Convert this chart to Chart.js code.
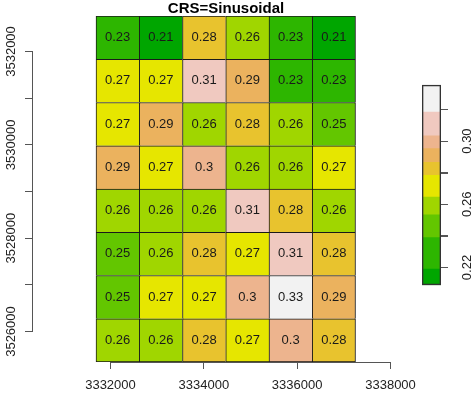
<!DOCTYPE html>
<html>
<head>
<meta charset="utf-8">
<script src="https://cdn.jsdelivr.net/npm/chart.js@4/dist/chart.umd.min.js"></script>
<style>
  html, body { margin: 0; padding: 0; background: #fff; }
  #wrap { position: relative; width: 474px; height: 395px; }
  #main { position: absolute; left: 0; top: 0; }
  #legend { position: absolute; left: 400px; top: 70px; }
</style>
</head>
<body>
<div id="wrap">
  <canvas id="main" width="474" height="395"></canvas>
  <canvas id="legend" width="74" height="230"></canvas>
</div>
<script>
// ---------- data ----------
const title = 'CRS=Sinusoidal';

// raster : 6 colonnes x 8 lignes, cellule ~926.6 m (sinusoïdale MODIS)
const cellSize = 926.6;
const rasterLeft = 3331690;
const rasterTop = 3532760;

// valeurs lues ligne par ligne (haut -> bas)
const row1 = [0.23, 0.21, 0.28, 0.26, 0.23, 0.21];
const row2 = [0.27, 0.27, 0.31, 0.29, 0.23, 0.23];
const row3 = [0.27, 0.29, 0.26, 0.28, 0.26, 0.25];
const row4 = [0.29, 0.27, 0.3, 0.26, 0.26, 0.27];
const row5 = [0.26, 0.26, 0.26, 0.31, 0.28, 0.26];
const row6 = [0.25, 0.26, 0.28, 0.27, 0.31, 0.28];
const row7 = [0.25, 0.27, 0.27, 0.3, 0.33, 0.29];
const row8 = [0.26, 0.26, 0.28, 0.27, 0.3, 0.28];
const rows = [row1, row2, row3, row4, row5, row6, row7, row8];

// étendue du graphique (usr) et ticks
const xMin = 3330340, xMax = 3338610;
const yMin = 3525347, yMax = 3532760;
const xTicks = [3332000, 3334000, 3336000, 3338000];
const yTicks = [3526000, 3527000, 3528000, 3529000, 3530000, 3531000, 3532000];
const yLabelled = [3526000, 3528000, 3530000, 3532000];

// légende (terrain.colors)
const legendBreaks = [0.2088, 0.2194, 0.2394, 0.2538, 0.2650, 0.2788, 0.2869, 0.2956, 0.3038, 0.3188, 0.3356];
const legendColors = ['#00A600', '#2DB600', '#63C600', '#A0D600', '#E6E600', '#E8C32E', '#EBB25E', '#EDB48E', '#F0C9C0', '#F2F2F2'];
const legendTicks = [0.22, 0.24, 0.26, 0.28, 0.30, 0.32];
const legendLabelled = [0.22, 0.26, 0.30];

// ---------- helpers ----------
const axisColor = '#555';
const textColor = '#222';

Chart.defaults.font.family = '"Liberation Sans", Arial, sans-serif';
Chart.defaults.font.size = 13;
Chart.defaults.color = textColor;

function colorFor(v) {
  for (let i = 0; i < legendColors.length; i++) {
    if (v >= legendBreaks[i] && v < legendBreaks[i + 1]) return legendColors[i];
  }
  return legendColors[legendColors.length - 1];
}

const setTicks = list => s => { s.ticks = list.map(v => ({ value: v })); };

const nRows = rows.length;
const nCols = row1.length;
const cells = [];
rows.forEach((row, r) => {
  row.forEach((v, c) => {
    cells.push({
      x: rasterLeft + (c + 0.5) * cellSize,
      y: [rasterTop - (r + 1) * cellSize, rasterTop - r * cellSize],
      v: v, r: r, c: c
    });
  });
});

// texte des valeurs au centre des cellules
const cellLabels = {
  id: 'cellLabels',
  afterDatasetsDraw(chart) {
    const meta = chart.getDatasetMeta(0);
    const ctx = chart.ctx;
    ctx.save();
    ctx.font = '13px "Liberation Sans", Arial, sans-serif';
    ctx.fillStyle = '#1a1a1a';
    ctx.textAlign = 'center';
    ctx.textBaseline = 'middle';
    meta.data.forEach((bar, i) => {
      const p = bar.getCenterPoint();
      ctx.fillText(String(cells[i].v), p.x, p.y);
    });
    ctx.restore();
  }
};

// lignes d'axe façon R : du premier au dernier tick
const rAxes = {
  id: 'rAxes',
  afterDraw(chart) {
    const ctx = chart.ctx;
    const area = chart.chartArea;
    ctx.save();
    ctx.strokeStyle = axisColor;
    ctx.lineWidth = 1;
    ctx.beginPath();
    Object.values(chart.scales).forEach(s => {
      if (!s.options.display || !s.ticks.length) return;
      const a = s.getPixelForValue(s.ticks[0].value);
      const b = s.getPixelForValue(s.ticks[s.ticks.length - 1].value);
      if (s.isHorizontal()) {
        const y = Math.round(area.bottom) + 0.5;
        ctx.moveTo(a, y); ctx.lineTo(b, y);
      } else {
        const x = s.position === 'right' ? Math.round(area.right) + 0.5 : Math.round(area.left) - 0.5;
        ctx.moveTo(x, a); ctx.lineTo(x, b);
      }
    });
    ctx.stroke();
    ctx.restore();
  }
};

// petits traits de graduation de la légende (côté droit)
const legendTickMarks = {
  id: 'legendTickMarks',
  afterDraw(chart) {
    const s = chart.scales.y;
    const ctx = chart.ctx;
    const x = Math.round(chart.chartArea.right);
    ctx.save();
    ctx.strokeStyle = axisColor;
    ctx.lineWidth = 1;
    ctx.beginPath();
    s.ticks.forEach(t => {
      const y = Math.round(s.getPixelForValue(t.value)) + 0.5;
      ctx.moveTo(x, y); ctx.lineTo(x + 7, y);
    });
    ctx.stroke();
    ctx.restore();
  }
};

// ---------- carte ----------
new Chart(document.getElementById('main'), {
  type: 'bar',
  data: {
    datasets: [{
      data: cells,
      backgroundColor: ctx => colorFor(ctx.raw.v),
      borderColor: '#1a1a1a',
      borderSkipped: false,
      borderWidth: ctx => ({
        left: 1, top: 1,
        right: ctx.raw.c === nCols - 1 ? 1 : 0,
        bottom: ctx.raw.r === nRows - 1 ? 1 : 0
      }),
      grouped: false,
      categoryPercentage: 1,
      barPercentage: 1
    }]
  },
  options: {
    responsive: false,
    animation: false,
    layout: { padding: { left: 0, right: 55, top: 0, bottom: 0 } },
    plugins: {
      legend: { display: false },
      tooltip: { enabled: false },
      title: {
        display: true,
        text: title,
        fullSize: false,
        color: '#000',
        font: { size: 15, weight: 'bold', lineHeight: 1 },
        padding: { top: 1, bottom: 0 }
      }
    },
    scales: {
      x: {
        type: 'linear',
        min: xMin, max: xMax,
        offset: false,
        afterBuildTicks: setTicks(xTicks),
        afterFit: s => { s.height = 33; },
        border: { display: false },
        grid: { offset: false, drawOnChartArea: false, color: axisColor, tickLength: 7 },
        ticks: { padding: 9, maxRotation: 0, callback: v => String(v) }
      },
      y: {
        type: 'linear',
        min: yMin, max: yMax,
        afterBuildTicks: setTicks(yTicks),
        afterFit: s => { s.width = 33; },
        border: { display: false },
        grid: { drawOnChartArea: false, color: axisColor, tickLength: 8 },
        ticks: { minRotation: 90, crossAlign: 'center', padding: -12,
                 callback: v => yLabelled.includes(v) ? String(v) : '' }
      }
    }
  },
  plugins: [cellLabels, rAxes]
});

// ---------- légende ----------
new Chart(document.getElementById('legend'), {
  type: 'bar',
  data: {
    datasets: [
      {
        data: [{ x: 0, y: [legendBreaks[0], legendBreaks[legendBreaks.length - 1]] }],
        backgroundColor: 'rgba(0,0,0,0)',
        borderColor: '#333',
        borderWidth: 1,
        borderSkipped: false,
        grouped: false, categoryPercentage: 1, barPercentage: 1
      },
      {
        data: legendColors.map((c, i) => ({ x: 0, y: [legendBreaks[i], legendBreaks[i + 1]] })),
        backgroundColor: legendColors,
        borderWidth: 0,
        grouped: false, categoryPercentage: 1, barPercentage: 1
      }
    ]
  },
  options: {
    responsive: false,
    animation: false,
    layout: { padding: { left: 22, right: 0, top: 14, bottom: 13 } },
    plugins: { legend: { display: false }, tooltip: { enabled: false } },
    scales: {
      x: { type: 'linear', min: -1, max: 1, offset: false, display: false },
      y: {
        type: 'linear',
        position: 'right',
        min: legendBreaks[0], max: legendBreaks[legendBreaks.length - 1],
        afterBuildTicks: setTicks(legendTicks),
        afterFit: s => { s.width = 33; },
        border: { display: false },
        grid: { drawOnChartArea: false, color: axisColor, tickLength: 7 },
        ticks: { minRotation: 90, crossAlign: 'center', padding: 7,
                 callback: v => legendLabelled.some(l => Math.abs(l - v) < 1e-9) ? v.toFixed(2) : '' }
      }
    }
  },
  plugins: [legendTickMarks]
});
</script>
</body>
</html>
